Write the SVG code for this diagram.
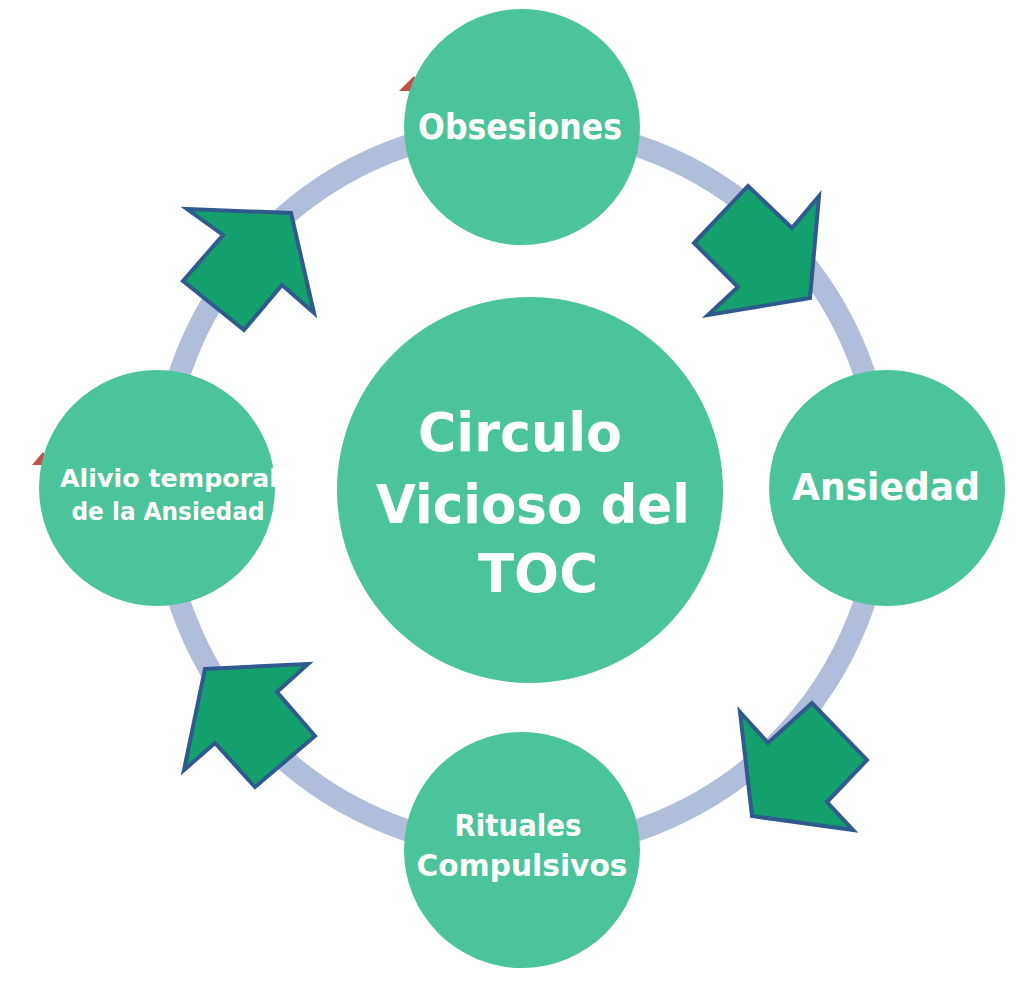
<svg xmlns="http://www.w3.org/2000/svg" width="1024" height="992" viewBox="0 0 1024 992">
<style>
.node{fill:#4cc49b;}
.ring{fill:none;stroke:#b0bedc;stroke-width:22;}
.arrow{fill:#14a06c;stroke:#2f5a8c;stroke-width:4;stroke-linejoin:miter;}
.red{fill:#c0504d;}
.t{fill:#ffffff;font-family:"DejaVu Sans","Liberation Sans",sans-serif;font-weight:bold;text-anchor:middle;}
</style>
<rect width="1024" height="992" fill="#ffffff"/>
<g id="connectors">
<circle class="ring" cx="522" cy="488" r="361"/>
<polygon class="red" points="399,91 414,76 422,91"/>
<polygon class="red" points="32,465 43,452 50,465"/>
<polygon class="arrow" points="187,209 291,213 314,313 282,285 244,330 183,281 223,235"/>
<polygon class="arrow" points="748,186 792,228 819,196 810,298 708,315 738,287 694,243"/>
<polygon class="arrow" points="740,712 768,743 812,703 867,760 827,802 853,830 752,816"/>
<polygon class="arrow" points="205,669 308,664 277,692 315,736 255,787 215,743 184,770"/>
</g>
<g id="node-obsesiones">
<circle class="node" cx="522" cy="127" r="118"/>
<text class="t" x="520" y="139" font-size="35" textLength="204" lengthAdjust="spacingAndGlyphs">Obsesiones</text>
</g>
<g id="node-ansiedad">
<circle class="node" cx="887" cy="488" r="118"/>
<text class="t" x="886" y="500" font-size="37" textLength="188" lengthAdjust="spacingAndGlyphs">Ansiedad</text>
</g>
<g id="node-rituales">
<circle class="node" cx="522" cy="850" r="118"/>
<text class="t" x="518" y="836" font-size="30" textLength="127" lengthAdjust="spacingAndGlyphs">Rituales</text>
<text class="t" x="522" y="876" font-size="30" textLength="211" lengthAdjust="spacingAndGlyphs">Compulsivos</text>
</g>
<g id="node-alivio">
<circle class="node" cx="157" cy="488" r="118"/>
<text class="t" x="169" y="487" font-size="25" textLength="218" lengthAdjust="spacingAndGlyphs">Alivio temporal</text>
<text class="t" x="168" y="520" font-size="25" textLength="193" lengthAdjust="spacingAndGlyphs">de la Ansiedad</text>
</g>
<g id="node-center">
<circle class="node" cx="530" cy="490" r="193"/>
<text class="t" x="520" y="451" font-size="54" textLength="204" lengthAdjust="spacingAndGlyphs">Circulo</text>
<text class="t" x="533" y="523" font-size="54" textLength="314" lengthAdjust="spacingAndGlyphs">Vicioso del</text>
<text class="t" x="538" y="592" font-size="54" textLength="120" lengthAdjust="spacingAndGlyphs">TOC</text>
</g>
</svg>
